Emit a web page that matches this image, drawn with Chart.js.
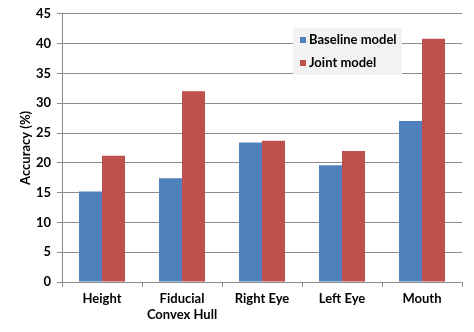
<!DOCTYPE html>
<html>
<head>
<meta charset="utf-8">
<script src="https://cdn.jsdelivr.net/npm/chart.js@4/dist/chart.umd.min.js"></script>
<style>
  html, body { margin: 0; padding: 0; background: #fff; }
  #wrap { width: 474px; height: 332px; }
</style>
</head>
<body>
<div id="wrap"><canvas id="c" width="474" height="332"></canvas></div>
<script>
// values
var categories = [["Height"], ["Fiducial", "Convex Hull"], ["Right Eye"], ["Left Eye"], ["Mouth"]];
var baseline = [15.2, 17.4, 23.4, 19.6, 27.0];
var joint = [21.2, 32.0, 23.7, 22.0, 40.8];
var seriesNames = ["Baseline model", "Joint model"];
var yTicks = [0, 5, 10, 15, 20, 25, 30, 35, 40, 45];

var FONT = "Lato, 'Open Sans', sans-serif";

// legend box sitting inside the plot, like the original
var boxLegend = {
  id: "boxLegend",
  afterDraw: function (chart) {
    var ctx = chart.ctx;
    var x = 293, y = 28, w = 109, h = 47;
    ctx.save();
    ctx.fillStyle = "#f2f2f2";
    ctx.fillRect(x, y, w, h);
    ctx.font = "bold 13px " + FONT;
    ctx.textBaseline = "middle";
    chart.data.datasets.forEach(function (ds, i) {
      var cy = y + 12 + i * 23;
      ctx.fillStyle = ds.backgroundColor;
      ctx.fillRect(x + 7, cy - 3, 6, 6);
      ctx.fillStyle = "#000";
      ctx.fillText(ds.label, x + 16, cy);
    });
    ctx.restore();
  }
};

new Chart(document.getElementById("c"), {
  type: "bar",
  data: {
    labels: categories,
    datasets: [
      { label: seriesNames[0], data: baseline, backgroundColor: "#4f81bd" },
      { label: seriesNames[1], data: joint, backgroundColor: "#c0504d" }
    ]
  },
  options: {
    responsive: false,
    animation: false,
    layout: { padding: { top: 8, right: 12, bottom: 0, left: 16 } },
    plugins: { legend: { display: false }, tooltip: { enabled: false } },
    datasets: { bar: { categoryPercentage: 0.575, barPercentage: 1.0 } },
    scales: {
      x: {
        grid: { drawOnChartArea: false, drawTicks: true, tickLength: 5, color: "#8c8c8c", offset: true },
        border: { color: "#8c8c8c" },
        ticks: { color: "#000", font: { family: FONT, size: 13, weight: "bold" }, padding: 4, maxRotation: 0 },
        afterFit: function (s) { s.height = 50; }
      },
      y: {
        min: 0,
        max: 45,
        afterBuildTicks: function (s) { s.ticks = yTicks.map(function (v) { return { value: v }; }); },
        grid: { color: "#8c8c8c", tickLength: 5 },
        border: { color: "#8c8c8c" },
        ticks: { color: "#000", font: { family: FONT, size: 13, weight: "bold" }, padding: 6 },
        title: { display: true, text: "Accuracy (%)", color: "#000", padding: 2, font: { family: FONT, size: 13, weight: "bold" } },
        afterFit: function (s) { s.width = 46; }
      }
    }
  },
  plugins: [boxLegend]
});
</script>
</body>
</html>
